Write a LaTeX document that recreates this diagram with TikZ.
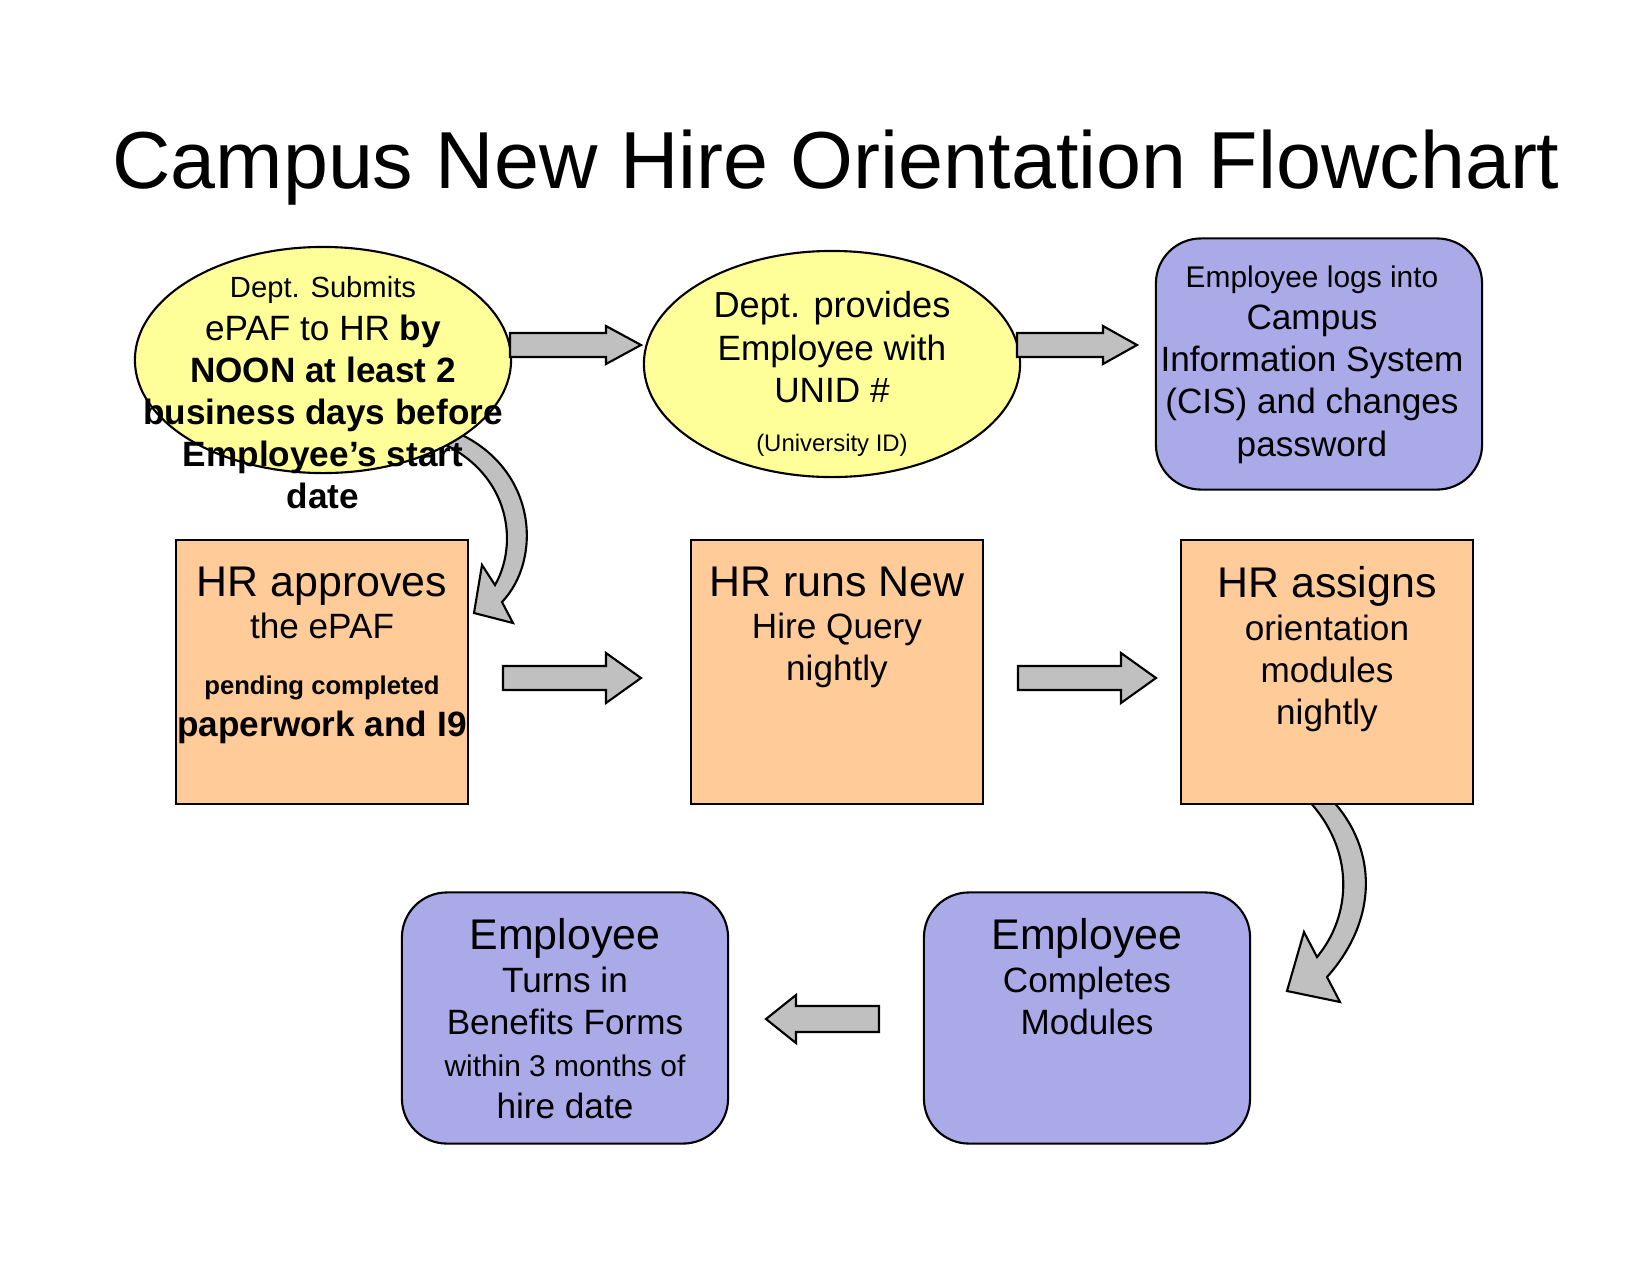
\documentclass[tikz,border=0pt]{standalone}
\usepackage{fontspec}
\setmainfont{Liberation Sans}
\usetikzlibrary{shapes.geometric}
\definecolor{pale}{HTML}{FFFF99}
\definecolor{peach}{HTML}{FFCC99}
\definecolor{lilac}{HTML}{AAAAE8}
\definecolor{arrowgray}{HTML}{C0C0C0}
\tikzset{
  oval/.style={ellipse,draw,line width=0.6pt,fill=pale,minimum width=3.76cm,minimum height=2.26cm,inner sep=0pt},
  square/.style={rectangle,draw,line width=0.6pt,fill=peach,minimum width=2.92cm,minimum height=2.63cm,inner sep=0pt},
  rounded/.style={rectangle,rounded corners=0.45cm,draw,line width=0.6pt,fill=lilac,minimum width=3.26cm,minimum height=2.51cm,inner sep=0pt},
  txt/.style={anchor=north,align=center,inner sep=0pt},
  blockarrow/.style={draw,line width=0.6pt,fill=arrowgray,line join=miter}
}
\begin{document}
\begin{tikzpicture}[x=0.01cm,y=-0.01cm]
	\useasboundingbox (0,0) rectangle (1650,1275);
	\node (title) at (836,168) {\fontsize{23}{27}\selectfont Campus New Hire Orientation Flowchart};
	% curved arrows sit below the shapes
	\fill[blockarrow] (458,433) .. controls (538,470) and (542,560) .. (502,602) -- (513,623) -- (474,613) -- (482,565) -- (495,585) .. controls (518,545) and (512,475) .. (440,442) -- cycle;
	\fill[blockarrow] (1332,800) .. controls (1378,850) and (1378,920) .. (1327,977) -- (1340,1002) -- (1287,991) -- (1304,932) -- (1317,957) .. controls (1352,915) and (1355,850) .. (1308,800) -- cycle;
	% top row
	\node[oval] (submit) at (323,360) {};
	\node[txt] (submittxt) at (323,276) {\fontsize{8.3}{9.5}\selectfont Dept. Submits\\ePAF to HR \textbf{by}\\\textbf{NOON at least 2}\\\textbf{business days before}\\\textbf{Employee’s start}\\\textbf{date}};
	\node[oval] (unid) at (832,364) {};
	\node[txt] (unidtxt) at (832,291) {\fontsize{10.3}{11.5}\selectfont Dept. provides\\Employee with\\UNID \#\\[2pt]\fontsize{6.8}{8}\selectfont (University ID)};
	\node[rounded] (cis) at (1319,364) {};
	\node[txt] (cistxt) at (1312,265) {\fontsize{8.5}{10}\selectfont Employee logs into\\Campus\\Information System\\(CIS) and changes\\password};
	% middle row
	\node[square] (approve) at (322,672) {};
	\node[txt] (approvetxt) at (322,566) {\fontsize{12.2}{12.9}\selectfont HR approves\\the ePAF\\[4pt]\fontsize{7.3}{9.6}\selectfont\textbf{pending completed}\\\textbf{paperwork and I9}};
	\node[square] (query) at (837,672) {};
	\node[txt] (querytxt) at (837,566) {\fontsize{12.2}{12.9}\selectfont HR runs New\\Hire Query\\nightly};
	\node[square] (assign) at (1327,672) {};
	\node[txt] (assigntxt) at (1327,566) {\fontsize{12.2}{12.9}\selectfont HR assigns\\orientation\\modules\\nightly};
	% bottom row
	\node[rounded] (benefits) at (565,1018) {};
	\node[txt] (benefitstxt) at (565,918) {\fontsize{12.2}{12.9}\selectfont Employee\\Turns in\\Benefits Forms\\\fontsize{8.5}{9.6}\selectfont within 3 months of\\hire date};
	\node[rounded] (modules) at (1087,1018) {};
	\node[txt] (modulestxt) at (1087,918) {\fontsize{12.2}{12.9}\selectfont Employee\\Completes\\Modules};
	% straight block arrows
	\fill[blockarrow] (510,333) -- (606,333) -- (606,326) -- (641,345) -- (606,364) -- (606,357) -- (510,357) -- cycle;
	\fill[blockarrow] (1017,333) -- (1103,333) -- (1103,326) -- (1137,345) -- (1103,364) -- (1103,357) -- (1017,357) -- cycle;
	\fill[blockarrow] (503,666) -- (606,666) -- (606,653) -- (641,678) -- (606,703) -- (606,690) -- (503,690) -- cycle;
	\fill[blockarrow] (1018,666) -- (1121,666) -- (1121,653) -- (1156,678) -- (1121,703) -- (1121,690) -- (1018,690) -- cycle;
	\fill[blockarrow] (879,1006) -- (796,1006) -- (796,995) -- (766,1019) -- (796,1043) -- (796,1032) -- (879,1032) -- cycle;
\end{tikzpicture}
\end{document}
